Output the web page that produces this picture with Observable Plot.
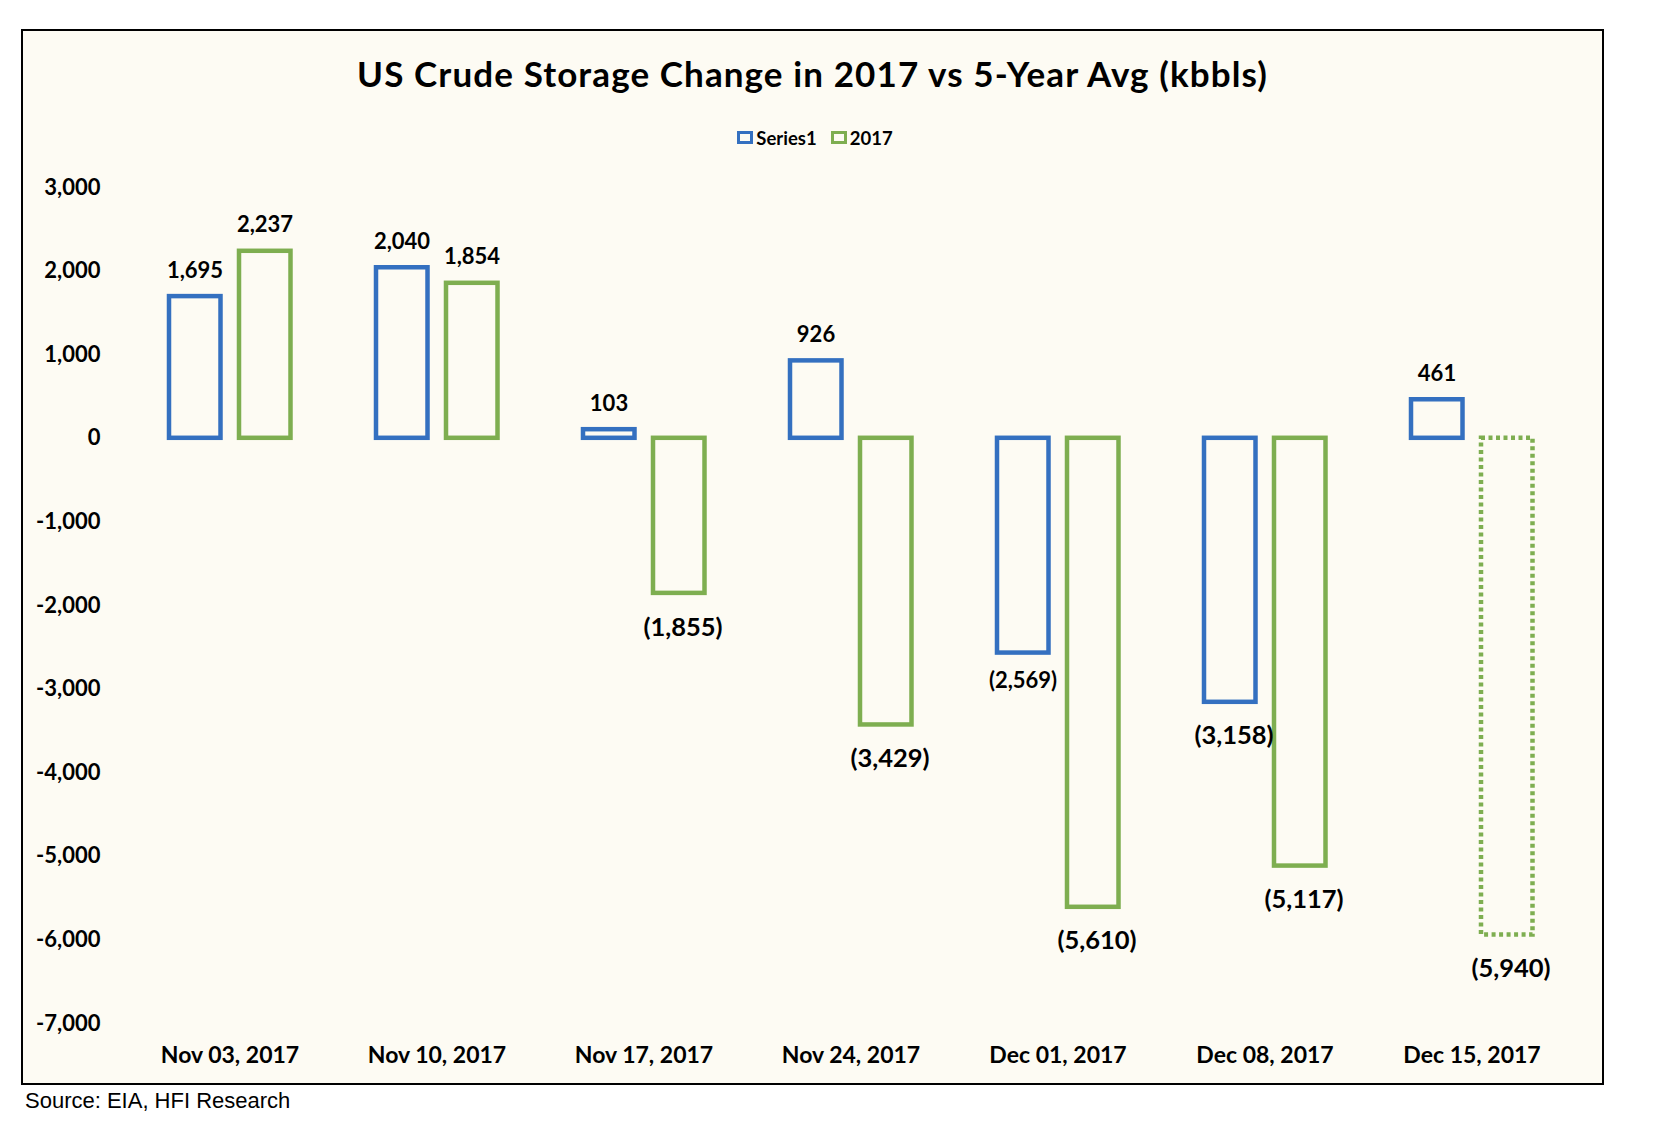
<!DOCTYPE html>
<html>
<head>
<meta charset="utf-8">
<script src="https://cdn.jsdelivr.net/npm/d3@7"></script>
<script src="https://cdn.jsdelivr.net/npm/@observablehq/plot@0.6"></script>
<style>
  html, body { margin: 0; padding: 0; background: #ffffff; width: 1654px; height: 1136px; overflow: hidden; }
  #frame { position: absolute; left: 21px; top: 29px; width: 1579px; height: 1052px; border: 2px solid #000; background: #FDFBF3; }
  #title { position: absolute; left: 21px; width: 1583px; top: 49px; text-align: center; font-family: Lato, sans-serif; font-weight: bold; font-size: 35px; letter-spacing: 1.1px; color: #000; line-height: 48px; }
  #legend { position: absolute; top: 126px; left: 0; width: 1630px; text-align: center; font-family: Lato, sans-serif; font-weight: bold; font-size: 18.5px; line-height: 22px; color: #000; }
  #legend span.item { display: inline-flex; align-items: center; margin: 0 7px; }
  #legend span.sw { display: inline-block; width: 10px; height: 7px; border: 3px solid; margin-right: 3px; }
  #chart { position: absolute; left: 23px; top: 150px; }
  #source { position: absolute; left: 25px; top: 1088px; font-family: "Liberation Sans", Arial, sans-serif; font-size: 22px; color: #000; }
</style>
</head>
<body>
<div id="frame"></div>
<div id="title">US Crude Storage Change in 2017 vs 5-Year Avg (kbbls)</div>
<div id="legend"></div>
<div id="chart"></div>
<div id="source">Source: EIA, HFI Research</div>
<script>
const dates = ["Nov 03, 2017", "Nov 10, 2017", "Nov 17, 2017", "Nov 24, 2017", "Dec 01, 2017", "Dec 08, 2017", "Dec 15, 2017"];
const seriesNames = ["Series1", "2017"];
const series1 = [1695, 2040, 103, 926, -2569, -3158, 461];
const series2017 = [2237, 1854, -1855, -3429, -5610, -5117, -5940];
const yTicks = [3000, 2000, 1000, 0, -1000, -2000, -3000, -4000, -5000, -6000, -7000];
const colors = {"Series1": "#3470C0", "2017": "#7EAE50"};

const rows = [];
dates.forEach((d, i) => {
  rows.push({date: d, series: "Series1", value: series1[i]});
  rows.push({date: d, series: "2017", value: series2017[i]});
});
const blue = rows.filter(r => r.series === "Series1");
const green = rows.filter(r => r.series === "2017");
const greenSolid = green.filter(r => r.date !== "Dec 15, 2017");
const greenDotted = green.filter(r => r.date === "Dec 15, 2017");

const fmt = d3.format(",");
const labelFmt = v => v < 0 ? "(" + fmt(-v) + ")" : fmt(v);
const tickFmt = v => (v < 0 ? "-" : "") + fmt(Math.abs(v));
const bigLabel = d => d.value < 0 && !(d.series === "Series1" && d.date === "Dec 01, 2017");

// legend
const leg = document.getElementById("legend");
seriesNames.forEach(s => {
  const it = document.createElement("span");
  it.className = "item";
  const sw = document.createElement("span");
  sw.className = "sw";
  sw.style.borderColor = colors[s];
  it.appendChild(sw);
  it.appendChild(document.createTextNode(s));
  leg.appendChild(it);
});

const W = 1579, H = 933;
const barCommon = {x: "date", y: "value", fill: "none", strokeWidth: 4.5};

function labels(data, dx) {
  const pos = data.filter(d => d.value >= 0);
  const negSmall = data.filter(d => d.value < 0 && !bigLabel(d));
  const negBig = data.filter(d => bigLabel(d));
  return [
    Plot.text(pos, {x: "date", y: "value", text: d => labelFmt(d.value), dx, dy: -26, fontSize: 22, fontWeight: "bold", fill: "#000"}),
    Plot.text(negSmall, {x: "date", y: "value", text: d => labelFmt(d.value), dx, dy: 28, fontSize: 22, fontWeight: "bold", fill: "#000"}),
    Plot.text(negBig, {x: "date", y: "value", text: d => labelFmt(d.value), dx: dx + 4, dy: 34, fontSize: 25.5, fontWeight: "bold", fill: "#000"})
  ];
}

const chart = Plot.plot({
  width: W,
  height: H,
  marginLeft: 102,
  marginRight: 26,
  marginTop: 37,
  marginBottom: 60,
  style: {background: "transparent", fontFamily: "Lato, sans-serif", color: "#000", overflow: "visible"},
  x: {type: "band", domain: dates, padding: 0, label: null},
  y: {domain: [-7000, 3000], label: null},
  marks: [
    Plot.axisY({ticks: yTicks, tickFormat: tickFmt, tickSize: 0, tickPadding: 25, fontSize: 22, fontWeight: "bold", label: null}),
    Plot.axisX({tickSize: 0, tickPadding: 23, fontSize: 23, fontWeight: "bold", label: null}),
    Plot.barY(blue, {...barCommon, stroke: colors["Series1"], insetLeft: 43, insetRight: 112.5}),
    Plot.barY(greenSolid, {...barCommon, stroke: colors["2017"], insetLeft: 113, insetRight: 42.5}),
    Plot.barY(greenDotted, {...barCommon, stroke: colors["2017"], insetLeft: 113, insetRight: 42.5, strokeDasharray: "4,3.5"}),
    ...labels(blue, -35),
    ...labels(green, 35)
  ]
});
document.getElementById("chart").appendChild(chart);
</script>
</body>
</html>
